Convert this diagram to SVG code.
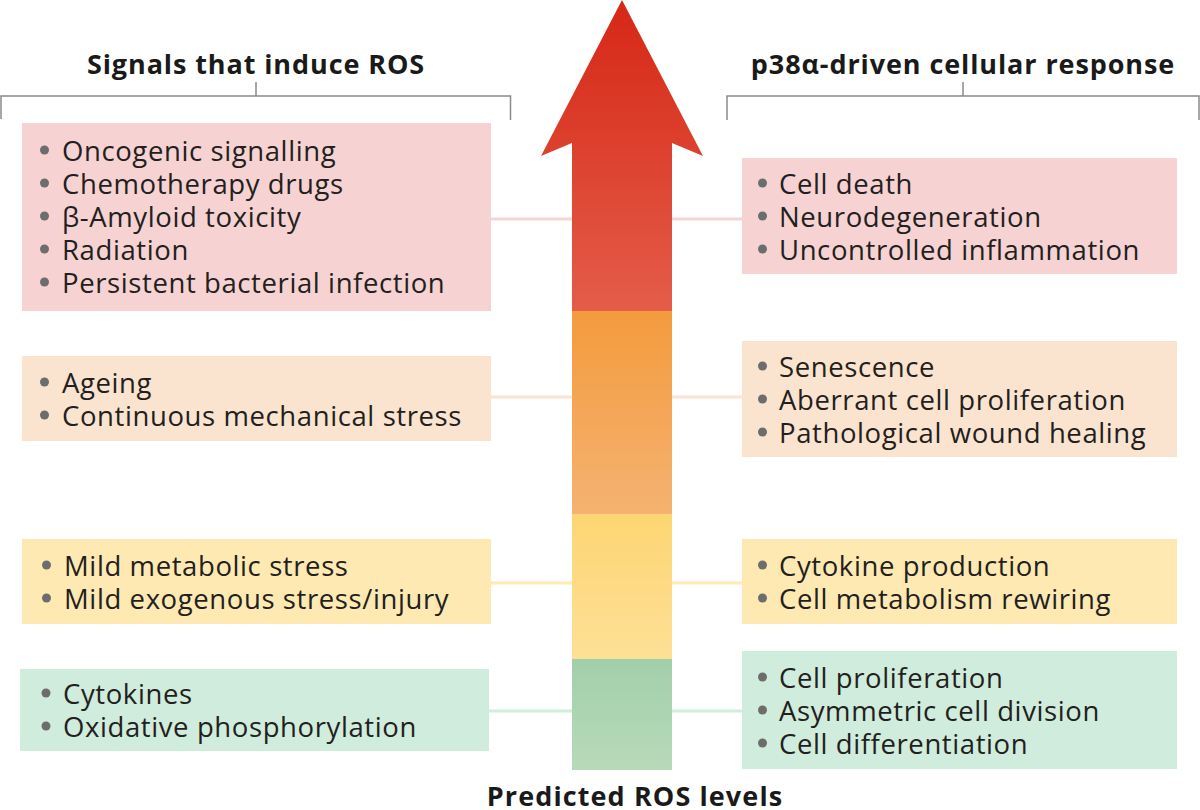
<svg xmlns="http://www.w3.org/2000/svg" width="1200" height="810" viewBox="0 0 1200 810">
<defs>
<style>
.t{font-family:"Open Sans","Noto Sans","Liberation Sans",sans-serif;font-size:27.5px;letter-spacing:0.6px;fill:#231f20}
.h{font-family:"Open Sans","Noto Sans","Liberation Sans",sans-serif;font-size:27px;letter-spacing:0.9px;font-weight:bold;fill:#1a1a1a}
.b{fill:#6d6d6d}
.br{fill:none;stroke:#8a8a8a;stroke-width:1.5}
.pk{fill:#f6d2d2}.or{fill:#fbe4cf}.ye{fill:#fee9b3}.gr{fill:#d0ecdc}
</style>
<linearGradient id="gRed" gradientUnits="userSpaceOnUse" x1="0" y1="0" x2="0" y2="311"><stop offset="0" stop-color="#d62716"/><stop offset="1" stop-color="#e45d49"/></linearGradient>
<linearGradient id="gOr" gradientUnits="userSpaceOnUse" x1="0" y1="311" x2="0" y2="514"><stop offset="0" stop-color="#f39b3d"/><stop offset="1" stop-color="#f5b272"/></linearGradient>
<linearGradient id="gYe" gradientUnits="userSpaceOnUse" x1="0" y1="514" x2="0" y2="659"><stop offset="0" stop-color="#fdd572"/><stop offset="1" stop-color="#fde097"/></linearGradient>
<linearGradient id="gGr" gradientUnits="userSpaceOnUse" x1="0" y1="659" x2="0" y2="770"><stop offset="0" stop-color="#a1cfa9"/><stop offset="1" stop-color="#b9dab9"/></linearGradient>
</defs>
<rect width="1200" height="810" fill="#ffffff"/>

<g id="connectors">
<line x1="490" y1="219" x2="572" y2="219" stroke="#f7d4d4" stroke-width="3"/>
<line x1="672" y1="219" x2="742" y2="219" stroke="#f7d4d4" stroke-width="3"/>
<line x1="490" y1="397" x2="572" y2="397" stroke="#fbe4cf" stroke-width="3"/>
<line x1="672" y1="397" x2="742" y2="397" stroke="#fbe4cf" stroke-width="3"/>
<line x1="490" y1="583" x2="572" y2="583" stroke="#feeab3" stroke-width="3"/>
<line x1="672" y1="583" x2="742" y2="583" stroke="#feeab3" stroke-width="3"/>
<line x1="488" y1="711" x2="572" y2="711" stroke="#d3eddd" stroke-width="3"/>
<line x1="672" y1="711" x2="742" y2="711" stroke="#d3eddd" stroke-width="3"/>
</g>

<g id="arrow">
<polygon points="622,0 703,156 672,143 672,311 572,311 572,143 541,156" fill="url(#gRed)"/>
<rect x="572" y="311" width="100" height="203" fill="url(#gOr)"/>
<rect x="572" y="514" width="100" height="145" fill="url(#gYe)"/>
<rect x="572" y="659" width="100" height="111" fill="url(#gGr)"/>
</g>

<g id="header-left">
<text class="h" x="256" y="74" text-anchor="middle">Signals that induce ROS</text>
<path class="br" d="M1,119 V96 H510.5 V120 M256,82 V96"/>
</g>
<g id="header-right">
<text class="h" x="963" y="74" text-anchor="middle">p38α-driven cellular response</text>
<path class="br" d="M727,120 V96 H1199 V120 M963,82 V96"/>
</g>

<g id="left-red">
<rect class="pk" x="22" y="123" width="469" height="188"/>
<circle class="b" cx="44.5" cy="150" r="4.5"/><text class="t" x="62" y="161">Oncogenic signalling</text>
<circle class="b" cx="44.5" cy="183" r="4.5"/><text class="t" x="62" y="194">Chemotherapy drugs</text>
<circle class="b" cx="44.5" cy="216" r="4.5"/><text class="t" x="62" y="227">β-Amyloid toxicity</text>
<circle class="b" cx="44.5" cy="249" r="4.5"/><text class="t" x="62" y="260">Radiation</text>
<circle class="b" cx="44.5" cy="282" r="4.5"/><text class="t" x="62" y="293">Persistent bacterial infection</text>
</g>
<g id="left-orange">
<rect class="or" x="22" y="356" width="469" height="85"/>
<circle class="b" cx="44.5" cy="382" r="4.5"/><text class="t" x="62" y="393">Ageing</text>
<circle class="b" cx="44.5" cy="415" r="4.5"/><text class="t" x="62" y="426">Continuous mechanical stress</text>
</g>
<g id="left-yellow">
<rect class="ye" x="22" y="539" width="469" height="85"/>
<circle class="b" cx="46.5" cy="565" r="4.5"/><text class="t" x="64" y="576">Mild metabolic stress</text>
<circle class="b" cx="46.5" cy="598" r="4.5"/><text class="t" x="64" y="609">Mild exogenous stress/injury</text>
</g>
<g id="left-green">
<rect class="gr" x="20" y="669" width="469" height="82"/>
<circle class="b" cx="46" cy="693" r="4.5"/><text class="t" x="63" y="704">Cytokines</text>
<circle class="b" cx="46" cy="726" r="4.5"/><text class="t" x="63" y="737">Oxidative phosphorylation</text>
</g>

<g id="right-red">
<rect class="pk" x="742" y="158" width="435" height="116"/>
<circle class="b" cx="762.5" cy="183" r="4.5"/><text class="t" x="779" y="194">Cell death</text>
<circle class="b" cx="762.5" cy="216" r="4.5"/><text class="t" x="779" y="227">Neurodegeneration</text>
<circle class="b" cx="762.5" cy="249" r="4.5"/><text class="t" x="779" y="260">Uncontrolled inflammation</text>
</g>
<g id="right-orange">
<rect class="or" x="742" y="341" width="435" height="116"/>
<circle class="b" cx="762.5" cy="366" r="4.5"/><text class="t" x="779" y="377">Senescence</text>
<circle class="b" cx="762.5" cy="399" r="4.5"/><text class="t" x="779" y="410">Aberrant cell proliferation</text>
<circle class="b" cx="762.5" cy="432" r="4.5"/><text class="t" x="779" y="443">Pathological wound healing</text>
</g>
<g id="right-yellow">
<rect class="ye" x="742" y="539" width="435" height="85"/>
<circle class="b" cx="762.5" cy="565" r="4.5"/><text class="t" x="779" y="576">Cytokine production</text>
<circle class="b" cx="762.5" cy="598" r="4.5"/><text class="t" x="779" y="609">Cell metabolism rewiring</text>
</g>
<g id="right-green">
<rect class="gr" x="742" y="651" width="435" height="118"/>
<circle class="b" cx="762.5" cy="677" r="4.5"/><text class="t" x="779" y="688">Cell proliferation</text>
<circle class="b" cx="762.5" cy="710" r="4.5"/><text class="t" x="779" y="721">Asymmetric cell division</text>
<circle class="b" cx="762.5" cy="743" r="4.5"/><text class="t" x="779" y="754">Cell differentiation</text>
</g>

<g id="footer">
<text class="h" x="635" y="806" text-anchor="middle" style="letter-spacing:1.1px">Predicted ROS levels</text>
</g>
</svg>
